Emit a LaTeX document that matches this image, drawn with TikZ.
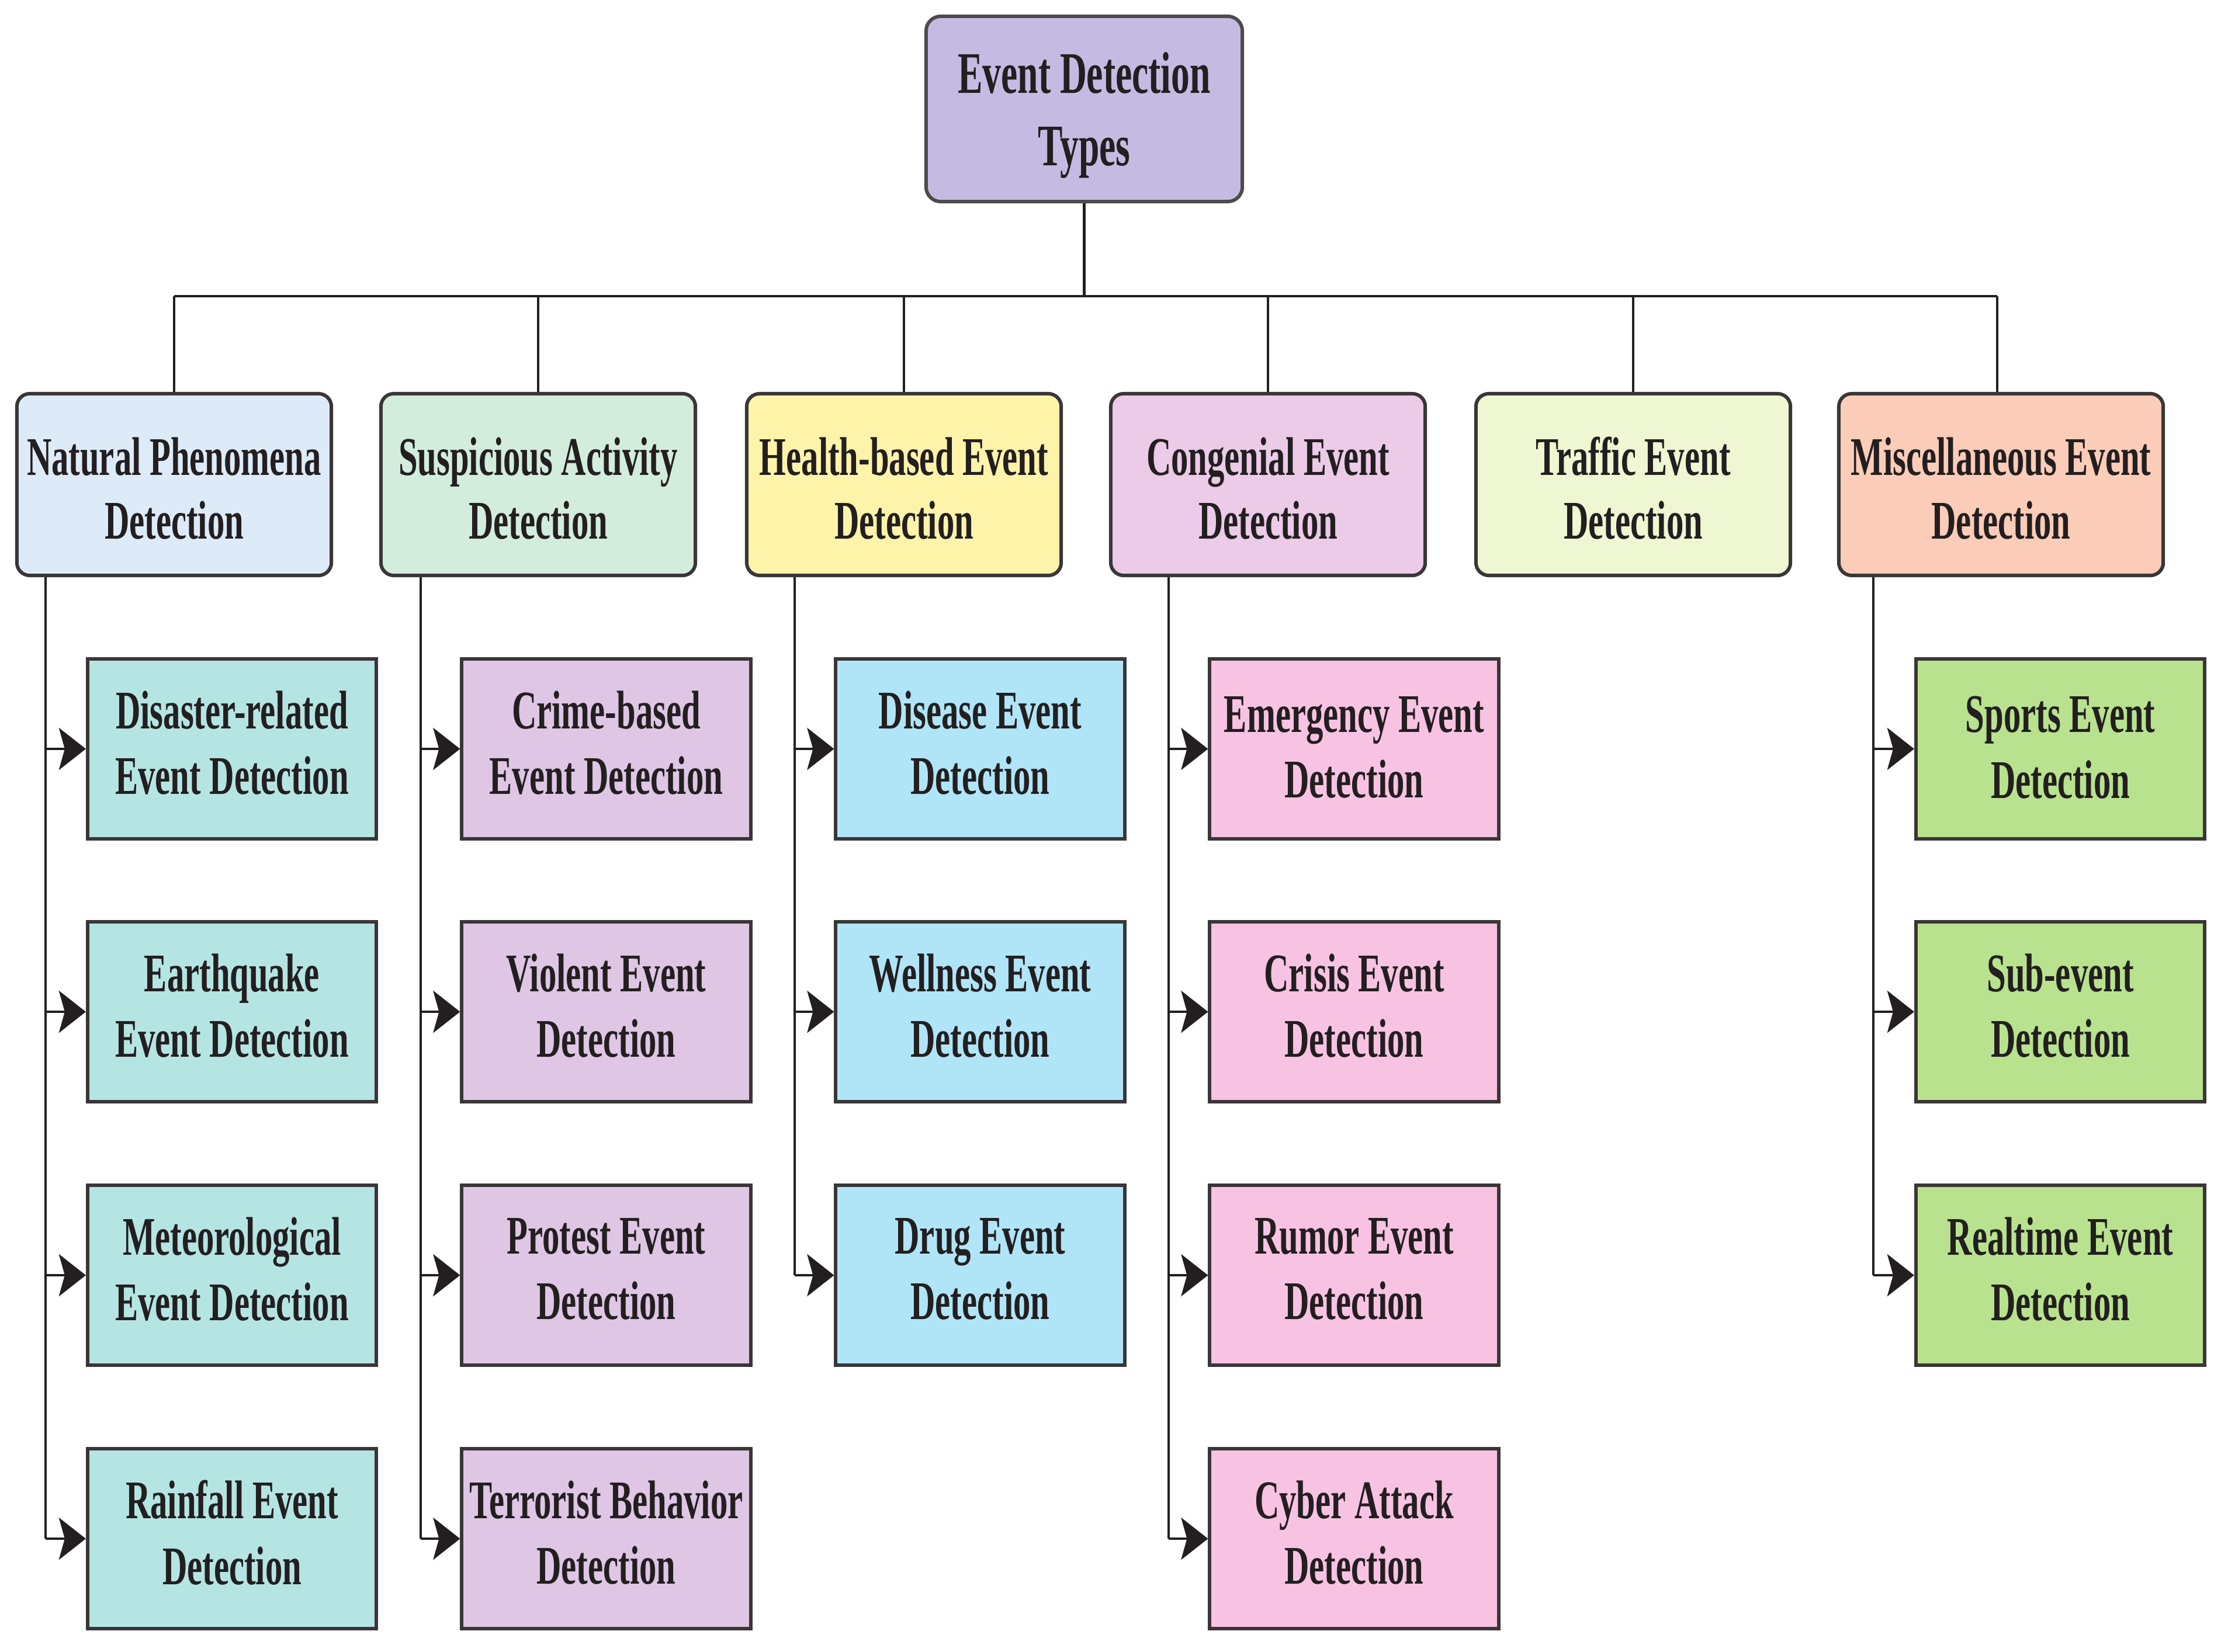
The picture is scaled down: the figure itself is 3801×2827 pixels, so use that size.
\documentclass[tikz,border=0pt]{standalone}
\usepackage{fontspec}
\setmainfont{Liberation Serif}[FakeStretch=0.63]
\usetikzlibrary{arrows.meta}
\definecolor{txt}{HTML}{231F20}
\definecolor{lineC}{HTML}{231F20}
\definecolor{bordC}{HTML}{3A3637}
\definecolor{rootB}{HTML}{4D4B4B}
\definecolor{cRoot}{HTML}{C5BBE2}
\definecolor{cNat}{HTML}{DDEBF8}
\definecolor{cSus}{HTML}{D2EDDB}
\definecolor{cHea}{HTML}{FDF3A9}
\definecolor{cCon}{HTML}{EBCBE7}
\definecolor{cTra}{HTML}{EEF6D2}
\definecolor{cMis}{HTML}{FBCCB8}
\definecolor{lNat}{HTML}{B5E5E2}
\definecolor{lSus}{HTML}{DFC6E5}
\definecolor{lHea}{HTML}{B0E5F8}
\definecolor{lCon}{HTML}{F8C3E2}
\definecolor{lMis}{HTML}{B8E28E}
\begin{document}
\begin{tikzpicture}[x=0.01cm,y=-0.01cm,
  rootbox/.style={draw=rootB, line width=1.7pt, rounded corners=0.25cm, fill=cRoot,
    minimum width=5.41cm, minimum height=3.17cm, align=center, inner sep=0pt,
    text depth=-0.16cm,
    font=\fontsize{28.7}{35}\selectfont\bfseries, text=txt},
  catbox/.style={draw=bordC, line width=1.7pt, rounded corners=0.22cm,
    minimum width=5.38cm, minimum height=3.11cm, align=center, inner sep=0pt,
    text height=1.86cm,
    font=\fontsize{26.5}{31}\selectfont\bfseries, text=txt},
  leafbox/.style={draw=bordC, line width=1.7pt,
    minimum width=4.94cm, minimum height=3.08cm, align=center, inner sep=0pt,
    text depth=0.22cm,
    font=\fontsize{26.5}{32}\selectfont\bfseries, text=txt},
  conn/.style={draw=lineC, line width=1.3pt},
  arr/.style={conn, -{Stealth[length=0.46cm,width=0.72cm,inset=0.1cm]}}
]
\useasboundingbox (0,0) rectangle (3801,2827);

% root
\node[rootbox] (root) at (1855.5,186.5) {Event Detection\\Types};

% categories
\node[catbox, fill=cNat] (nat) at (298,829.5) {Natural Phenomena\\Detection};
\node[catbox, fill=cSus] (sus) at (921,829.5) {Suspicious Activity\\Detection};
\node[catbox, fill=cHea] (hea) at (1547,829.5) {Health-based Event\\Detection};
\node[catbox, fill=cCon] (con) at (2170,829.5) {Congenial Event\\Detection};
\node[catbox, fill=cTra] (tra) at (2795,829.5) {Traffic Event\\Detection};
\node[catbox, fill=cMis, minimum width=5.55cm] (mis) at (3424.5,829.5) {Miscellaneous Event\\Detection};

% leaves: natural
\node[leafbox, fill=lNat] (nat1) at (397,1282) {Disaster-related\\Event Detection};
\node[leafbox, fill=lNat] (nat2) at (397,1732) {Earthquake\\Event Detection};
\node[leafbox, fill=lNat] (nat3) at (397,2183) {Meteorological\\Event Detection};
\node[leafbox, fill=lNat] (nat4) at (397,2634) {Rainfall Event\\Detection};
% suspicious
\node[leafbox, fill=lSus] (sus1) at (1037.5,1282) {Crime-based\\Event Detection};
\node[leafbox, fill=lSus] (sus2) at (1037.5,1732) {Violent Event\\Detection};
\node[leafbox, fill=lSus] (sus3) at (1037.5,2183) {Protest Event\\Detection};
\node[leafbox, fill=lSus] (sus4) at (1037.5,2634) {Terrorist Behavior\\Detection};
% health
\node[leafbox, fill=lHea] (hea1) at (1677.5,1282) {Disease Event\\Detection};
\node[leafbox, fill=lHea] (hea2) at (1677.5,1732) {Wellness Event\\Detection};
\node[leafbox, fill=lHea] (hea3) at (1677.5,2183) {Drug Event\\Detection};
% congenial
\node[leafbox, fill=lCon, text depth=0.06cm] (con1) at (2317.5,1282) {Emergency Event\\Detection};
\node[leafbox, fill=lCon] (con2) at (2317.5,1732) {Crisis Event\\Detection};
\node[leafbox, fill=lCon] (con3) at (2317.5,2183) {Rumor Event\\Detection};
\node[leafbox, fill=lCon] (con4) at (2317.5,2634) {Cyber Attack\\Detection};
% misc
\node[leafbox, fill=lMis, text depth=0.06cm] (mis1) at (3526,1282) {Sports Event\\Detection};
\node[leafbox, fill=lMis] (mis2) at (3526,1732) {Sub-event\\Detection};
\node[leafbox, fill=lMis] (mis3) at (3526,2183) {Realtime Event\\Detection};

% bus
\coordinate (bus) at (0,507);
\coordinate (tnat) at (78,0);
\coordinate (tsus) at (720,0);
\coordinate (thea) at (1360,0);
\coordinate (tcon) at (2000,0);
\coordinate (tmis) at (3206,0);

\draw[conn] (root.south) -- (root.south |- bus);
\draw[conn] (nat.north |- bus) -- ([xshift=-0.065cm]mis.north |- bus);
\foreach \c in {nat,sus,hea,con,tra} {
  \draw[conn] (\c.north |- bus) -- (\c.north);
}
\draw[conn] ([xshift=-0.065cm]mis.north |- bus) -- ([xshift=-0.065cm]mis.north);

% trunks
\draw[conn] (nat.south -| tnat) -- (tnat |- nat4.west);
\draw[conn] (sus.south -| tsus) -- (tsus |- sus4.west);
\draw[conn] (hea.south -| thea) -- (thea |- hea3.west);
\draw[conn] (con.south -| tcon) -- (tcon |- con4.west);
\draw[conn] (mis.south -| tmis) -- (tmis |- mis3.west);

% arrows
\foreach \i in {1,2,3,4} {
  \draw[arr] (tnat |- nat\i.west) -- (nat\i.west);
  \draw[arr] (tsus |- sus\i.west) -- (sus\i.west);
  \draw[arr] (tcon |- con\i.west) -- (con\i.west);
}
\foreach \i in {1,2,3} {
  \draw[arr] (thea |- hea\i.west) -- (hea\i.west);
  \draw[arr] (tmis |- mis\i.west) -- (mis\i.west);
}
\end{tikzpicture}
\end{document}
